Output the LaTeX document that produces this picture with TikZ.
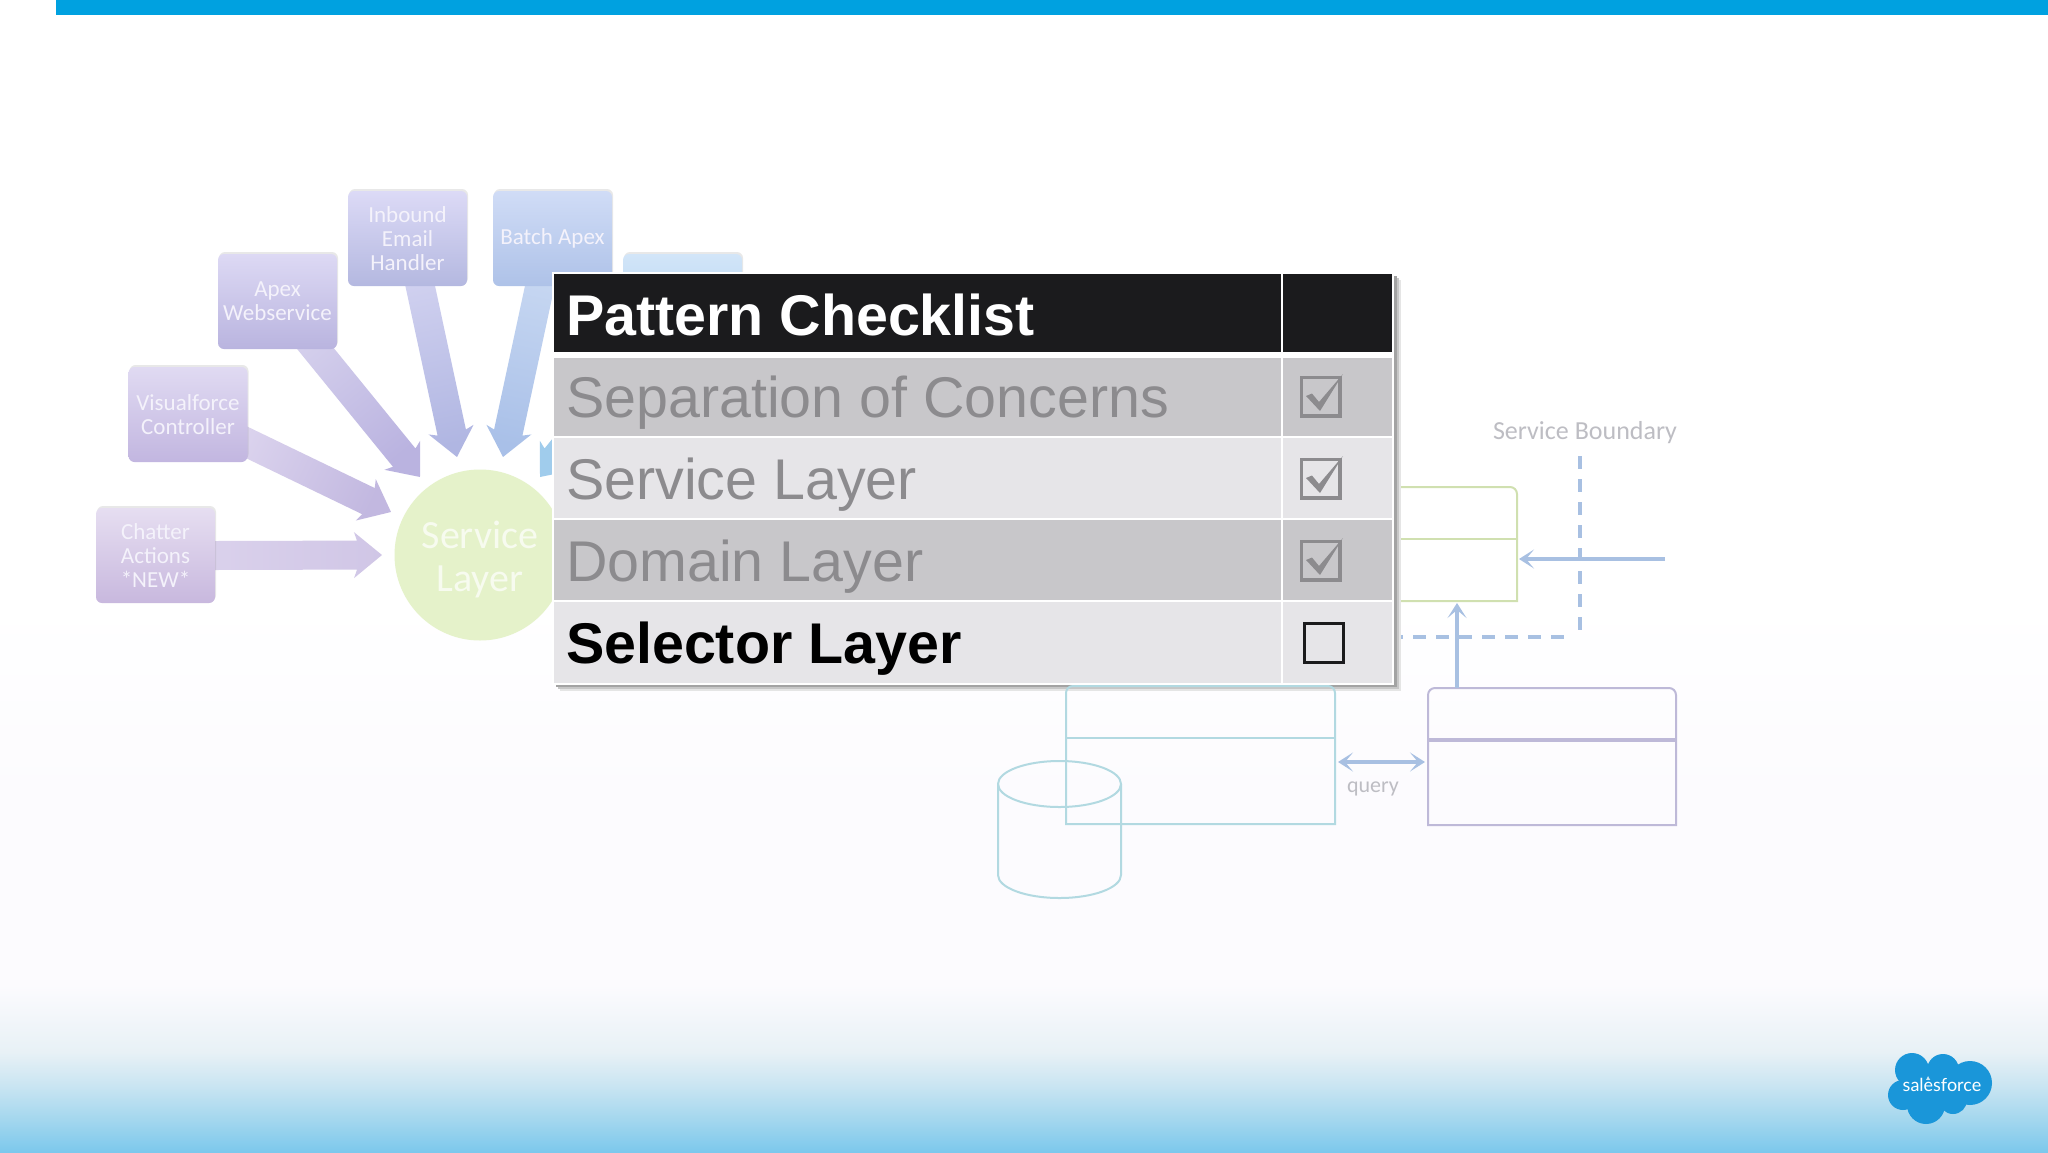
\documentclass[tikz,border=0pt]{standalone}
\usepackage{fontspec}
\setmainfont{Liberation Sans}
\newfontfamily\carl{Carlito}
\newfontfamily\latof{Lato}
\usetikzlibrary{arrows.meta,calc,shadows}
\definecolor{barblue}{HTML}{00A1E0}
\definecolor{skya}{HTML}{E8F1F6}
\definecolor{skyb}{HTML}{CAE5F2}
\definecolor{skyc}{HTML}{A4D7EE}
\definecolor{skyd}{HTML}{7CC8EC}
\definecolor{hazec}{HTML}{FCFBFE}
\definecolor{cloudc}{HTML}{1A96D9}
\definecolor{headc}{HTML}{1B1B1D}
\definecolor{rowdark}{HTML}{C8C7CA}
\definecolor{rowlight}{HTML}{E6E5E8}
\definecolor{fadetext}{HTML}{8C8B8E}
\definecolor{greenl}{HTML}{D0E0B0}
\definecolor{teall}{HTML}{B2D9E1}
\definecolor{purpl}{HTML}{BEB9D8}
\definecolor{bluel}{HTML}{A8C0E2}
\definecolor{labelc}{HTML}{BDBDC3}
\definecolor{boxtext}{HTML}{F4F2FB}
\definecolor{svcfill}{HTML}{E5F2CA}
\definecolor{chatT}{HTML}{E6DEF1}\definecolor{chatB}{HTML}{C8B8DE}
\definecolor{visT}{HTML}{E0DAF2}\definecolor{visB}{HTML}{C2B6E0}
\definecolor{apxT}{HTML}{DDD9F4}\definecolor{apxB}{HTML}{B9B4DF}
\definecolor{inbT}{HTML}{DCDAF6}\definecolor{inbB}{HTML}{B4B8E0}
\definecolor{batT}{HTML}{D0DCF6}\definecolor{batB}{HTML}{AEC2E8}
\definecolor{hidT}{HTML}{D2E5F8}\definecolor{hidB}{HTML}{AAD0EE}
\definecolor{ar1a}{HTML}{DBD2EC}\definecolor{ar1b}{HTML}{D0C6E6}
\definecolor{ar2a}{HTML}{DCD4EE}\definecolor{ar2b}{HTML}{C2B8E0}
\definecolor{ar3a}{HTML}{D4CFEC}\definecolor{ar3b}{HTML}{BAB3E0}
\definecolor{ar4a}{HTML}{D2D2F0}\definecolor{ar4b}{HTML}{B0B6E2}
\definecolor{ar5a}{HTML}{C8D8F2}\definecolor{ar5b}{HTML}{A9C0E8}
\definecolor{ar6a}{HTML}{C4DEF4}\definecolor{ar6b}{HTML}{A0CCEC}
\pgfdeclarelayer{bg}
\pgfdeclarelayer{arrowlayer}
\pgfsetlayers{bg,arrowlayer,main}
\tikzset{
  every node/.style={inner sep=0pt,outer sep=0pt},
  srcbox/.style={rounded corners=6,minimum width=119,minimum height=95,align=center,text=boxtext,
    font=\carl\fontsize{23}{24}\selectfont,
    drop shadow={opacity=.18,shadow xshift=1,shadow yshift=-2}},
  rowtext/.style={anchor=base west,font=\fontsize{57.4}{60}\selectfont,text=fadetext},
  rowbold/.style={anchor=base west,font=\bfseries\fontsize{57.4}{60}\selectfont},
  thinarrow/.style={draw=bluel,line width=3.4,-{Stealth[length=15,width=19,inset=8]}},
  dblarrow/.style={draw=bluel,line width=3.4,{Stealth[length=15,width=19,inset=8]}-{Stealth[length=15,width=19,inset=8]}},
  dashline/.style={draw=bluel,line width=3.5,dash pattern=on 13 off 10},
  smalllabel/.style={font=\carl\fontsize{26}{28}\selectfont,text=labelc}
}
% block arrow from named coordinate #1 to named coordinate #2, colours #3 to #4
\newcommand{\blockarrow}[4]{%
  \pgfpointdiff{\pgfpointanchor{#1}{center}}{\pgfpointanchor{#2}{center}}%
  \pgfgetlastxy{\bdx}{\bdy}%
  \pgfmathsetmacro\bang{atan2(\bdy,\bdx)}%
  \pgfmathsetmacro\blen{veclen(\bdx,\bdy)}%
  \pgfmathsetmacro\bsh{\blen-25}%
  \pgfmathsetmacro\bsa{\bang-90}%
  \begin{scope}[shift={(#1)},rotate=\bang]
    \shade[top color=#4,bottom color=#3,shading angle=\bsa]
      (-25,-14.5) -- (\bsh,-14.5) -- (\bsh-3,-23) -- (\blen,0) -- (\bsh-3,23) -- (\bsh,14.5) -- (-25,14.5) -- cycle;
  \end{scope}}
% UML style box: top corners rounded, divider at given distance
\newcommand{\umlbox}[3]{%
  \draw[#2,line width=2] (#1.south west) [rounded corners=7] -- (#1.north west) -- (#1.north east) [sharp corners] -- (#1.south east) -- cycle;
  \draw[#2,line width=#3] ($(#1.north west)+(0,52)$) -- ($(#1.north east)+(0,52)$);}
% tick box
\newcommand{\tickbox}[2]{%
  \begin{scope}[shift={(#1,#2)}]
    \draw[fadetext,line width=3.6] (1.5,1.5) rectangle (40,40);
    \fill[fadetext] (6,20) -- (12,17.5) -- (19,26) -- (43,-2) -- (20,35) -- cycle;
  \end{scope}}
\begin{document}
\begin{tikzpicture}[x=1pt,y=-1pt]
\useasboundingbox (0,0) rectangle (2048,1152);
% background
\begin{pgfonlayer}{bg}
\fill[white] (0,0) rectangle (2048,1152);
\shade[top color=white,bottom color=hazec] (0,600) rectangle (2048,800);
\fill[hazec] (0,800) rectangle (2048,985);
\shade[top color=hazec,bottom color=skya] (0,985) rectangle (2048,1052);
\shade[top color=skya,bottom color=skyb] (0,1052) rectangle (2048,1085);
\shade[top color=skyb,bottom color=skyc] (0,1085) rectangle (2048,1119);
\shade[top color=skyc,bottom color=skyd] (0,1119) rectangle (2048,1152);
\fill[barblue] (56,0) rectangle (2048,15);
\end{pgfonlayer}

% source boxes
\node[srcbox,top color=chatT,bottom color=chatB] (chatter) at (155.5,555.5) {Chatter\\Actions\\*NEW*};
\node[srcbox,top color=visT,bottom color=visB] (visual) at (188,414.5) {Visualforce\\Controller};
\node[srcbox,top color=apxT,bottom color=apxB] (apex) at (277.5,301.5) {Apex\\Webservice};
\node[srcbox,top color=inbT,bottom color=inbB] (inbound) at (407.5,238.5) {Inbound\\Email\\Handler};
\node[srcbox,top color=batT,bottom color=batB] (batch) at (552.5,238.5) {\raisebox{-2pt}{Batch Apex}};
\node[srcbox,top color=hidT,bottom color=hidB] (hidden) at (682.5,301.5) {};

% service circle
\node[circle,fill=svcfill,minimum size=171] (service) at (480,555) {};
\node[align=center,text=white!70!svcfill,font=\carl\fontsize{40}{43}\selectfont] (svclabel) at (480,559) {Service\\Layer};

% block arrows
\coordinate (s1) at (chatter.east); \coordinate (t1) at (382,555);
\coordinate (s2) at (248,443); \coordinate (t2) at (391,512);
\coordinate (s3) at (315,348); \coordinate (t3) at (420,477);
\coordinate (s4) at (420,285); \coordinate (t4) at (457,457);
\coordinate (s5) at (540,285); \coordinate (t5) at (503,457);
\coordinate (s6) at (645,348); \coordinate (t6) at (540,477);
\begin{pgfonlayer}{arrowlayer}
\blockarrow{s1}{t1}{ar1a}{ar1b}
\blockarrow{s2}{t2}{ar2a}{ar2b}
\blockarrow{s3}{t3}{ar3a}{ar3b}
\blockarrow{s4}{t4}{ar4a}{ar4b}
\blockarrow{s5}{t5}{ar5a}{ar5b}
\blockarrow{s6}{t6}{ar6a}{ar6b}
\end{pgfonlayer}

% right-hand boxes
\node[minimum width=247,minimum height=114] (domain) at (1393.5,544) {};
\node[minimum width=269,minimum height=138] (selector) at (1200.5,755) {};
\node[minimum width=248,minimum height=137] (purple) at (1552,756.5) {};
\umlbox{domain}{greenl}{2.4}
\umlbox{purple}{purpl}{3.4}

% database
\node[minimum width=123,minimum height=137] (db) at (1059.5,829.5) {};
\draw[teall,line width=2] (db.west |- 0,784) arc[start angle=180,end angle=-180,x radius=61.5,y radius=23];
\draw[teall,line width=2] (db.west |- 0,784) -- (db.west |- 0,875) arc[start angle=180,end angle=0,x radius=61.5,y radius=23] -- (db.east |- 0,784);

% connectors
\coordinate (extern) at (1665,559); \coordinate (domR) at (1519,559);
\coordinate (upA) at (1457,688); \coordinate (upB) at (1457,603);
\coordinate (qL) at (1338,762); \coordinate (qR) at (1425,762);
\coordinate (vTop) at (1580,456); \coordinate (vBot) at (1580,630);
\coordinate (hL) at (1390,637); \coordinate (hR) at (1564,637);
\draw[dashline] (vTop) -- (vBot);
\draw[dashline] (hL) -- (hR);
\draw[thinarrow] (extern) -- (domR);
\draw[thinarrow] (upA) -- (upB);
\draw[dblarrow] (qL) -- (qR);
\node[smalllabel] (boundary) at (1585,433) {Service Boundary};
\node[smalllabel,font=\carl\fontsize{22}{24}\selectfont] (query) at (1373,789) {query};

% table
\fill[black!10] (560,280) rectangle (1401,691);
\fill[black!22] (558,278) rectangle (1399,689);
\fill[black!36] (556,276) rectangle (1397,687);
\fill[white] (552,272) rectangle (1394,685);
\fill[headc] (554,274) rectangle (1280.5,352);
\fill[headc] (1283,274) rectangle (1392,352);
\fill[rowdark] (554,358) rectangle (1280.5,436);
\fill[rowdark] (1283,358) rectangle (1392,436);
\fill[rowlight] (554,438) rectangle (1280.5,518);
\fill[rowlight] (1283,438) rectangle (1392,518);
\fill[rowdark] (554,520) rectangle (1280.5,600);
\fill[rowdark] (1283,520) rectangle (1392,600);
\fill[rowlight] (554,602) rectangle (1280.5,683);
\fill[rowlight] (1283,602) rectangle (1392,683);
\umlbox{selector}{teall}{2.4}
\node[rowbold,text=white] (title) at (566,335) {Pattern Checklist};
\node[rowtext] (sep) at (566,417) {Separation of Concerns};
\node[rowtext] (svc) at (566,499) {Service Layer};
\node[rowtext] (dom) at (566,581) {Domain Layer};
\node[rowbold,text=black] (sel) at (566,663) {Selector Layer};
\tickbox{1300}{376}
\tickbox{1300}{458}
\tickbox{1300}{540}
\draw[headc,line width=3] (1304,623) rectangle (1343,662);

% logo
\begin{scope}[cloudc]
\fill (1912,1070) circle[radius=17];
\fill (1943,1070) circle[radius=16];
\fill (1970,1083) circle[radius=22];
\fill (1903,1095) circle[radius=15];
\fill (1926,1105) circle[radius=19];
\fill (1953,1100) circle[radius=14];
\fill (1915,1080) rectangle (1960,1105);
\end{scope}
\node[text=white,font=\latof\fontsize{18}{19}\selectfont] (logo) at (1942,1085) {salesforce};
\end{tikzpicture}
\end{document}
